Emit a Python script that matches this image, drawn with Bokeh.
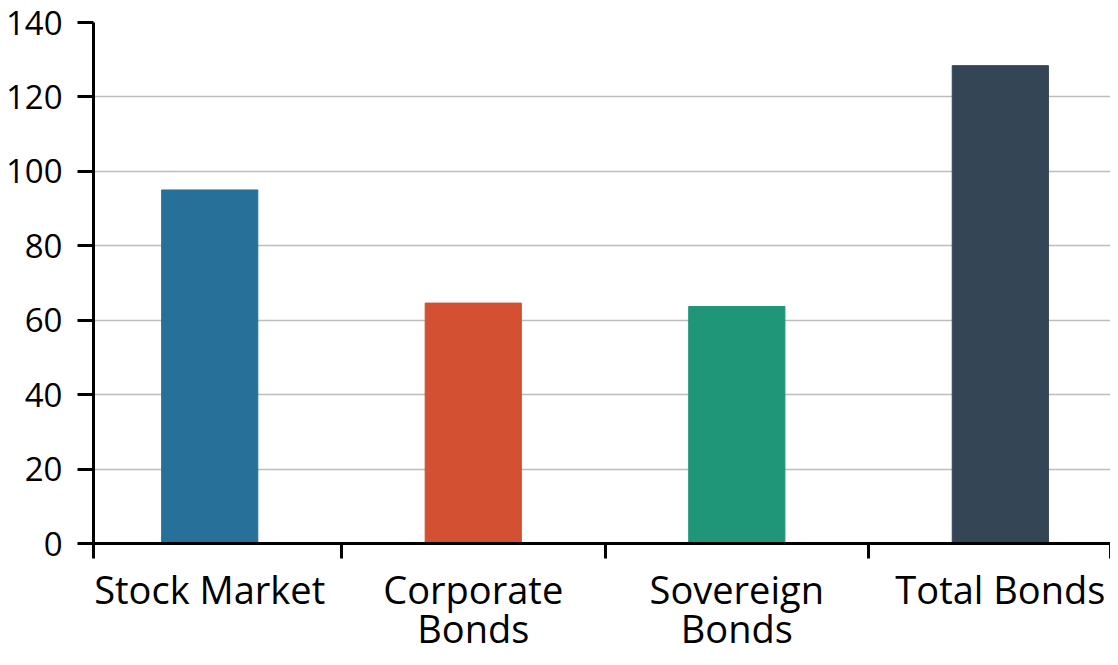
from bokeh.plotting import figure
from bokeh.models import ColumnDataSource, Range1d, FixedTicker
from bokeh.embed import file_html
from bokeh.resources import INLINE

categories = ["Stock Market", "Corporate\nBonds", "Sovereign\nBonds", "Total Bonds"]
values = [95.0, 64.6, 63.7, 128.4]
colors = ["#277099", "#d35032", "#1f9677", "#344556"]
y_ticks = [0, 20, 40, 60, 80, 100, 120, 140]

xs = list(range(len(categories)))
src = ColumnDataSource(dict(x=xs, top=values, color=colors))

FONT = "Open Sans"
X0, X1 = -0.441, 3.418

p = figure(width=1110, height=657, output_backend="svg", toolbar_location=None,
           x_range=Range1d(X0, X1), y_range=Range1d(0, 140),
           min_border_left=93, min_border_right=0, min_border_top=22, min_border_bottom=112)
p.outline_line_color = None
p.background_fill_color = "white"
p.border_fill_color = "white"

p.vbar(x="x", top="top", width=0.365, bottom=0, color="color", source=src)

# y axis
p.yaxis.ticker = FixedTicker(ticks=y_ticks, minor_ticks=[])
p.yaxis.axis_line_width = 3
p.yaxis.axis_line_color = "black"
p.yaxis.major_tick_line_width = 3
p.yaxis.major_tick_out = 16
p.yaxis.major_tick_in = 0
p.yaxis.minor_tick_line_color = None
p.yaxis.major_label_text_font = FONT
p.yaxis.major_label_text_font_size = "33px"
p.yaxis.major_label_text_color = "black"
p.yaxis.major_label_standoff = 15

# x axis
bounds = [X0, 0.5, 1.5, 2.5, X1]
p.xaxis.ticker = FixedTicker(ticks=xs, minor_ticks=bounds)
p.xaxis.major_label_overrides = {i: c for i, c in zip(xs, categories)}
p.xaxis.axis_line_width = 3
p.xaxis.axis_line_color = "black"
p.xaxis.major_tick_out = 0
p.xaxis.major_tick_in = 0
p.xaxis.major_tick_line_color = None
p.xaxis.minor_tick_out = 15
p.xaxis.minor_tick_in = 0
p.xaxis.minor_tick_line_width = 3
p.xaxis.minor_tick_line_color = "black"
p.xaxis.major_label_text_font = FONT
p.xaxis.major_label_text_font_size = "38px"
p.xaxis.major_label_text_line_height = 0.76
p.xaxis.major_label_text_color = "black"
p.xaxis.major_label_standoff = 4

p.xgrid.grid_line_color = None
p.ygrid.ticker = FixedTicker(ticks=y_ticks)
p.ygrid.grid_line_color = "#bcbcbc"
p.ygrid.grid_line_width = 1.5

open("out.html", "w").write(file_html(p, INLINE))
